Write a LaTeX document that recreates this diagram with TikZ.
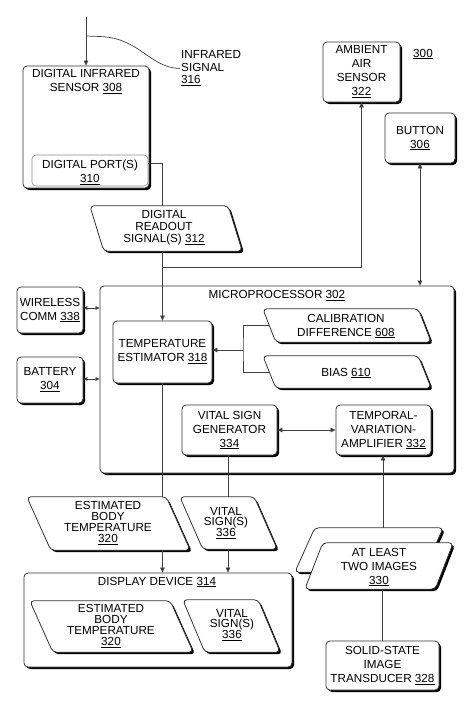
\documentclass[tikz,border=0pt]{standalone}
\usepackage{fontspec}
\setmainfont{Liberation Sans}
\usetikzlibrary{shadows,arrows.meta,calc}
\newcommand\un[1]{\underline{#1}}
\newcommand\pgL[2]{\draw[pgshape] (#1.north west) -- ([xshift=-#2]#1.north east) -- (#1.south east) -- ([xshift=#2]#1.south west) -- cycle;}
\newcommand\pgR[2]{\draw[pgshape] ([xshift=#2]#1.north west) -- (#1.north east) -- ([xshift=-#2]#1.south east) -- (#1.south west) -- cycle;}
\begin{document}
\lineskiplimit=-10pt\relax
\begin{tikzpicture}[x=1pt,y=-1pt,
  shadowed/.style={drop shadow={shadow xshift=2pt,shadow yshift=-2pt,fill=black,opacity=1}},
  txt/.style={align=center,inner sep=0pt,font=\fontsize{11.7}{14}\selectfont},
  tight/.style={txt,font=\fontsize{11.7}{12}\selectfont},
  tighter/.style={txt,font=\fontsize{11.7}{10.8}\selectfont},
  box/.style={txt,draw=black!80,line width=0.8pt,fill=white,rounded corners=4pt,shadowed},
  inbox/.style={draw=black!45,line width=0.6pt,rounded corners=4pt},
  frame/.style={inner sep=0pt,draw=none},
  pgshape/.style={draw=black!80,line width=0.8pt,fill=white,rounded corners=4pt,shadowed},
  conn/.style={draw=black!75,line width=0.7pt},
  arr/.style={conn,-{Triangle[length=5pt,width=4.5pt]}},
  darr/.style={conn,{Triangle[length=5pt,width=4.5pt]}-{Triangle[length=5pt,width=4.5pt]}},
  sdarr/.style={conn,{Triangle[length=4pt,width=3.5pt]}-{Triangle[length=4pt,width=3.5pt]}}]
\useasboundingbox (0,0) rectangle (474,713);

% digital infrared sensor
\node[box,minimum width=126pt,minimum height=122pt] (s308) at (86,127) {};
\node[txt] (s308t) at (86,81.5) {DIGITAL INFRARED\\SENSOR \un{308}};
\node[inbox,minimum width=116pt,minimum height=31pt] (port310) at (90,170.5) {};
\node[txt] (port310t) at (90,172.5) {DIGITAL PORT(S)\\\un{310}};

% infrared signal
\coordinate (irtop) at (86,17);
\coordinate (irj) at (86,36);
\node[txt,align=left,anchor=west,font=\fontsize{11.7}{12.5}\selectfont] (l316) at (181,68.5) {INFRARED\\SIGNAL\\\un{316}};

% ambient, button, label
\node[box,minimum width=77pt,minimum height=60pt] (a322) at (361.5,72) {AMBIENT\\AIR\\SENSOR\\\un{322}};
\node[txt] (l300) at (423,54) {\un{300}};
\node[box,minimum width=70pt,minimum height=50pt] (b306) at (420,138) {BUTTON\\\un{306}};

% digital readout signal
\node[frame,minimum width=152pt,minimum height=45pt] (p312) at (166,228.5) {};
\pgL{p312}{14pt}
\node[tight] (p312t) at (164,227.5) {DIGITAL\\READOUT\\SIGNAL(S) \un{312}};

% microprocessor
\node[box,minimum width=354pt,minimum height=187pt] (m302) at (277,379.5) {};
\node[txt] (m302t) at (277,295.5) {MICROPROCESSOR \un{302}};

\node[box,minimum width=66pt,minimum height=46pt] (w338) at (50,310) {WIRELESS\\COMM \un{338}};
\node[box,minimum width=66pt,minimum height=46pt] (bat304) at (50,380) {BATTERY\\\un{304}};

\node[box,minimum width=99pt,minimum height=62pt] (t318) at (162.5,352) {TEMPERATURE\\ESTIMATOR \un{318}};

\node[frame,minimum width=168pt,minimum height=33pt] (p608) at (347,325.5) {};
\pgL{p608}{13pt}
\node[txt] (p608t) at (346,326) {CALIBRATION\\DIFFERENCE \un{608}};
\node[frame,minimum width=168pt,minimum height=32pt] (p610) at (347,372) {};
\pgL{p610}{13pt}
\node[txt] (p610t) at (346,373) {BIAS \un{610}};

\node[box,minimum width=95pt,minimum height=50pt] (v334) at (229.5,430) {VITAL SIGN\\GENERATOR\\\un{334}};
\node[box,minimum width=95pt,minimum height=50pt] (a332) at (383.5,430) {TEMPORAL-\\VARIATION-\\AMPLIFIER \un{332}};

% outputs
\node[frame,minimum width=163pt,minimum height=53pt] (p320) at (108.5,523.5) {};
\pgL{p320}{24pt}
\node[tighter] (p320t) at (108,523) {ESTIMATED\\BODY\\TEMPERATURE\\\un{320}};
\node[frame,minimum width=97pt,minimum height=52pt] (p336) at (228.5,523) {};
\pgL{p336}{23pt}
\node[tighter] (p336t) at (226,523) {VITAL\\SIGN(S)\\\un{336}};

% display device
\node[box,minimum width=268pt,minimum height=94pt] (d314) at (158,620) {};
\node[txt] (d314t) at (157,582) {DISPLAY DEVICE \un{314}};
\node[frame,minimum width=163pt,minimum height=51pt] (q320) at (111.5,626.5) {};
\pgL{q320}{23pt}
\node[tighter] (q320t) at (111,626) {ESTIMATED\\BODY\\TEMPERATURE\\\un{320}};
\node[frame,minimum width=97pt,minimum height=52pt] (q336) at (231.5,626) {};
\pgL{q336}{22pt}
\node[tighter] (q336t) at (232,625) {VITAL\\SIGN(S)\\\un{336}};

% images
\node[frame,minimum width=148pt,minimum height=44pt] (p330b) at (369,550) {};
\pgR{p330b}{20pt}
\node[frame,minimum width=148pt,minimum height=46pt] (p330) at (379,566) {};
\pgR{p330}{18pt}
\node[txt] (p330t) at (379,567) {AT LEAST\\TWO IMAGES\\\un{330}};

\node[box,minimum width=113pt,minimum height=49pt] (s328) at (382.5,665.5) {SOLID-STATE\\IMAGE\\TRANSDUCER \un{328}};

% connectors
\draw[arr] (irtop) -- (s308.north);
\draw[conn] (irj) -- (100,36.5) .. controls (140,38) and (150,68) .. ([xshift=-1pt]l316.west);
\draw[conn] ([yshift=7pt]port310.east) -| (t318.north |- p312.north);
\draw[arr] (t318.north |- p312.south) -- (t318.north);
\coordinate (j1) at (162.5,267);
\draw[arr] (j1) -| (a322.south);
\draw[darr] (b306.south) -- (b306.south |- m302.north);
\draw[sdarr] ([yshift=2pt]w338.east) -- ([yshift=2pt]w338.east -| m302.west);
\draw[sdarr] ([yshift=1pt]bat304.east) -- ([yshift=1pt]bat304.east -| m302.west);
\coordinate (e608) at ($(p608.north west)!0.5!([xshift=13pt]p608.south west)$);
\coordinate (e610) at ($(p610.north west)!0.5!([xshift=13pt]p610.south west)$);
\coordinate (jn) at (243,350);
\draw[conn] (e608) -| (jn) |- (e610);
\draw[arr] (jn) -- (jn -| t318.east);
\draw[darr] (v334.east) -- (a332.west);
\draw[conn] (t318.south) -- (t318.south |- p320.north);
\draw[arr] (t318.south |- p320.south) -- (t318.south |- d314.north);
\draw[conn] ([xshift=-1.5pt]v334.south) -- ([xshift=-1.5pt]v334.south |- p336.north);
\draw[arr] ([xshift=-1.5pt]v334.south |- p336.south) -- ([xshift=-1.5pt]v334.south |- d314.north);
\draw[arr] ([xshift=-0.5pt]a332.south |- p330b.north) -- ([xshift=-0.5pt]a332.south);
\draw[conn] (s328.north |- p330.south) -- (s328.north);
\end{tikzpicture}
\end{document}
